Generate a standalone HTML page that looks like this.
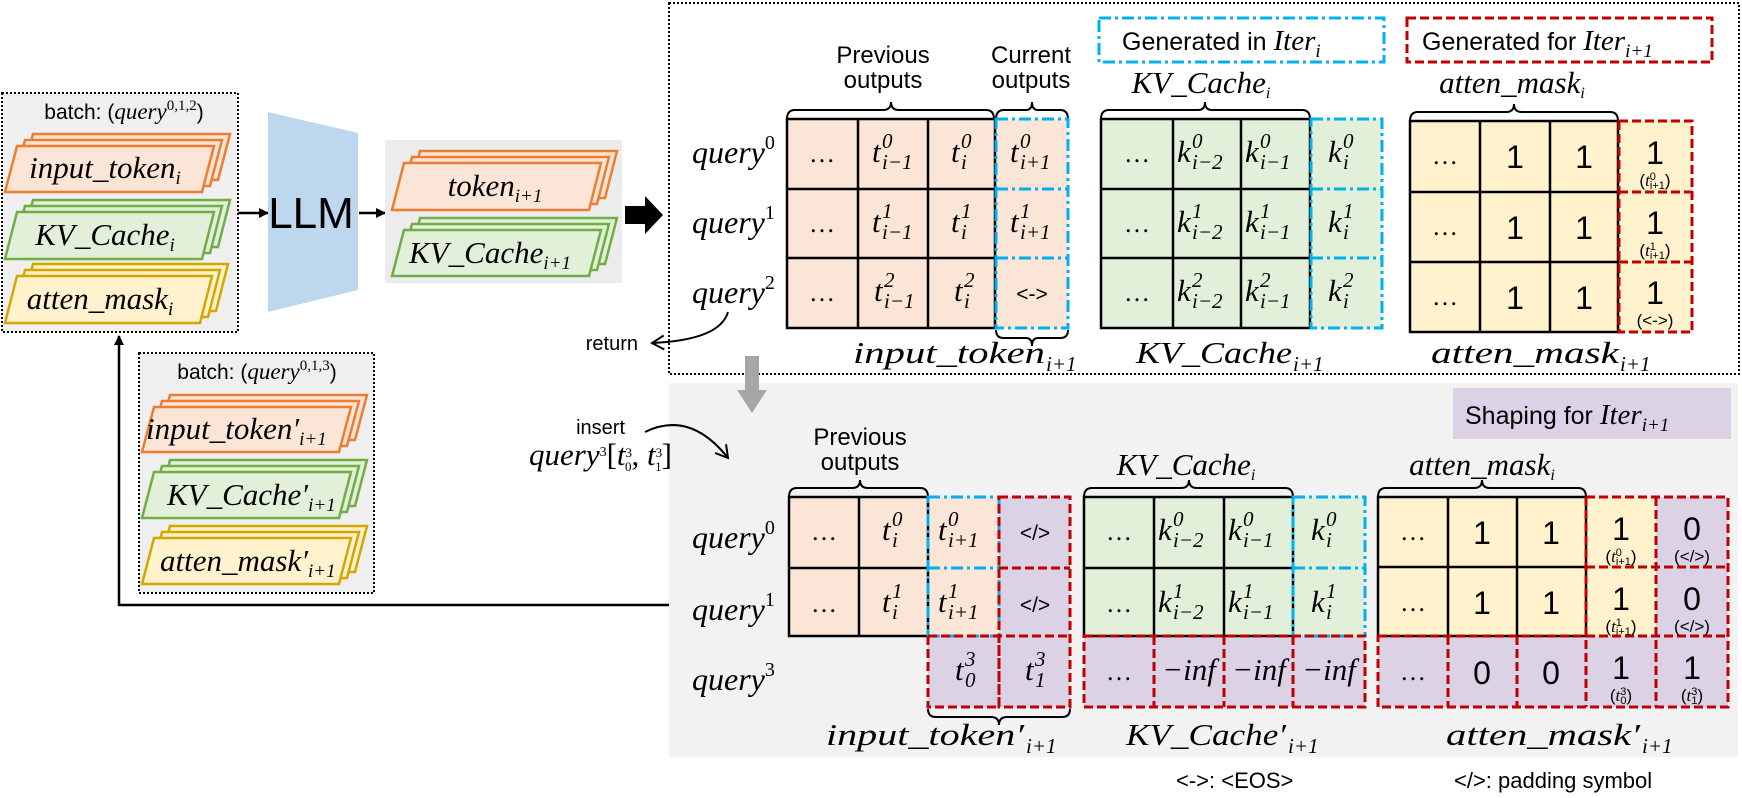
<!DOCTYPE html>
<html><head><meta charset="utf-8"><style>
html,body{margin:0;padding:0;background:#fff;}
svg{display:block}
.sans{font-family:"Liberation Sans",Arial,sans-serif;}
.m{font-family:"Liberation Serif",serif;font-style:italic;font-size:31px;}
.s{font-family:"Liberation Serif",serif;font-style:italic;font-size:21px;}
.n{font-family:"Liberation Sans",sans-serif;font-size:32px;}
.d{font-family:"Liberation Serif",serif;font-size:26px;}
.ss{font-family:"Liberation Sans",sans-serif;font-size:17px;}
.q{font-family:"Liberation Serif",serif;font-style:italic;font-size:32px;}
.g{stroke:#000;stroke-width:2.5;fill:none}
.bd{stroke:#00b0f0;stroke-width:3;stroke-dasharray:12 4 3 4;fill:none}
.rd{stroke:#c00000;stroke-width:3;stroke-dasharray:9 4;fill:none}
</style></head><body>
<svg width="1742" height="798" viewBox="0 0 1742 798" xmlns="http://www.w3.org/2000/svg">
<defs>
<marker id="ah" markerWidth="10" markerHeight="10" refX="9" refY="5" orient="auto" markerUnits="userSpaceOnUse"><path d="M0,0 L10,5 L0,10 z" fill="#000"/></marker>
<marker id="oh" markerWidth="16" markerHeight="16" refX="13" refY="8" orient="auto" markerUnits="userSpaceOnUse"><path d="M1,1 L13,8 L1,15" fill="none" stroke="#000" stroke-width="2"/></marker>
</defs>

<rect x="2" y="93" width="236" height="239" fill="#efefef" stroke="#000" stroke-width="2" stroke-dasharray="2 2"/>
<text x="124" y="119" text-anchor="middle" class="sans" font-size="21">batch: (<tspan font-family="Liberation Serif" font-style="italic" font-size="23">query</tspan><tspan dy="-9" font-family="Liberation Serif" font-size="15">0,1,2</tspan><tspan dy="9">)</tspan></text>
<g stroke="#ed7d31" stroke-width="2.5" fill="#fbe5d6">
<polygon points="33,134 230,134 218,180 21,180"/>
<polygon points="25,140 222,140 210,186 13,186"/>
<polygon points="17,146 214,146 202,192 5,192"/>
</g>
<text x="105" y="178" text-anchor="middle" class="m" font-size="29">input_token<tspan dy="6" font-size="19">i</tspan></text>
<g stroke="#70ad47" stroke-width="2.5" fill="#e2f0d9">
<polygon points="33,200 230,200 218,247 21,247"/>
<polygon points="25,206 222,206 210,253 13,253"/>
<polygon points="17,212 214,212 202,259 5,259"/>
</g>
<text x="105" y="245" text-anchor="middle" class="m" font-size="29">KV_Cache<tspan dy="6" font-size="19">i</tspan></text>
<g stroke="#d4a600" stroke-width="2.5" fill="#fff2cc">
<polygon points="33,264 228,264 216,311 21,311"/>
<polygon points="25,270 220,270 208,317 13,317"/>
<polygon points="17,276 212,276 200,323 5,323"/>
</g>
<text x="100" y="309" text-anchor="middle" class="m" font-size="29">atten_mask<tspan dy="6" font-size="19">i</tspan></text>

<line x1="238" y1="213" x2="268" y2="213" stroke="#000" stroke-width="2.5" marker-end="url(#ah)"/>
<polygon points="268,112 358,133 358,290 268,312" fill="#bdd7ee"/>
<text x="311" y="228" text-anchor="middle" class="sans" font-size="44">LLM</text>
<line x1="359" y1="213" x2="385" y2="213" stroke="#000" stroke-width="2.5" marker-end="url(#ah)"/>

<rect x="385" y="140" width="237" height="143" fill="#ececec"/>
<g stroke="#ed7d31" stroke-width="2.5" fill="#fbe5d6">
<polygon points="420,151 617,151 605,198 408,198"/>
<polygon points="412,157 609,157 597,204 400,204"/>
<polygon points="404,163 601,163 589,210 392,210"/>
</g>
<text x="495" y="196" text-anchor="middle" class="m" font-size="29">token<tspan dy="6" font-size="19">i+1</tspan></text>
<g stroke="#70ad47" stroke-width="2.5" fill="#e2f0d9">
<polygon points="420,218 617,218 605,264 408,264"/>
<polygon points="412,224 609,224 597,270 400,270"/>
<polygon points="404,230 601,230 589,276 392,276"/>
</g>
<text x="490" y="263" text-anchor="middle" class="m" font-size="29">KV_Cache<tspan dy="6" font-size="19">i+1</tspan></text>

<polygon points="625,206 645,206 645,196 663,215 645,234 645,224 625,224" fill="#000"/>

<rect x="139" y="353" width="235" height="240" fill="#efefef" stroke="#000" stroke-width="2" stroke-dasharray="2 2"/>
<text x="257" y="379" text-anchor="middle" class="sans" font-size="21">batch: (<tspan font-family="Liberation Serif" font-style="italic" font-size="23">query</tspan><tspan dy="-9" font-family="Liberation Serif" font-size="15">0,1,3</tspan><tspan dy="9">)</tspan></text>
<g stroke="#ed7d31" stroke-width="2.5" fill="#fbe5d6">
<polygon points="170,395 367,395 355,440 158,440"/>
<polygon points="162,401 359,401 347,446 150,446"/>
<polygon points="154,407 351,407 339,452 142,452"/>
</g>
<text x="146" y="439" class="m" font-size="29">input_token′<tspan dy="6" font-size="19">i+1</tspan></text>
<g stroke="#70ad47" stroke-width="2.5" fill="#e2f0d9">
<polygon points="170,460 367,460 355,506 158,506"/>
<polygon points="162,466 359,466 347,512 150,512"/>
<polygon points="154,472 351,472 339,518 142,518"/>
</g>
<text x="167" y="505" class="m" font-size="29">KV_Cache′<tspan dy="6" font-size="19">i+1</tspan></text>
<g stroke="#d4a600" stroke-width="2.5" fill="#fff2cc">
<polygon points="170,526 367,526 355,572 158,572"/>
<polygon points="162,532 359,532 347,578 150,578"/>
<polygon points="154,538 351,538 339,584 142,584"/>
</g>
<text x="160" y="571" class="m" font-size="29">atten_mask′<tspan dy="6" font-size="19">i+1</tspan></text>

<polyline points="672,605 119,605 119,336" fill="none" stroke="#000" stroke-width="2.5" marker-end="url(#ah)"/>

<rect x="669" y="3" width="1070" height="371" fill="none" stroke="#000" stroke-width="2" stroke-dasharray="2 2"/>

<text x="638" y="350" text-anchor="end" class="sans" font-size="20">return</text>
<path d="M728,312 Q720,340 652,343" fill="none" stroke="#000" stroke-width="2" marker-end="url(#oh)"/>

<rect x="1099" y="18" width="285" height="44" class="bd"/>
<text x="1122" y="50" class="sans" font-size="25">Generated in <tspan font-family="Liberation Serif" font-style="italic" font-size="29">Iter</tspan><tspan dy="7" font-family="Liberation Serif" font-style="italic" font-size="19">i</tspan></text>
<rect x="1407" y="18" width="305" height="44" class="rd"/>
<text x="1422" y="50" class="sans" font-size="25">Generated for <tspan font-family="Liberation Serif" font-style="italic" font-size="29">Iter</tspan><tspan dy="7" font-family="Liberation Serif" font-style="italic" font-size="19">i+1</tspan></text>

<text x="883" y="63" text-anchor="middle" class="sans" font-size="24">Previous</text>
<text x="883" y="88" text-anchor="middle" class="sans" font-size="24">outputs</text>
<text x="1031" y="63" text-anchor="middle" class="sans" font-size="24">Current</text>
<text x="1031" y="88" text-anchor="middle" class="sans" font-size="24">outputs</text>
<g fill="none" stroke="#000" stroke-width="2">
<path d="M787,119 Q787,110 795,110 L883,110 Q891,110 891,102 Q891,110 899,110 L986,110 Q994,110 994,119"/>
<path d="M996,119 Q996,110 1004,110 L1026,110 Q1032,110 1032,102 Q1032,110 1038,110 L1060,110 Q1068,110 1068,119"/>
<path d="M996,330 Q996,338 1004,338 L1026,338 Q1032,338 1032,346 Q1032,338 1038,338 L1060,338 Q1068,338 1068,330"/>
<path d="M1101,119 Q1101,110 1109,110 L1198,110 Q1205,110 1205,102 Q1205,110 1212,110 L1302,110 Q1310,110 1310,119"/>
<path d="M1410,121 Q1410,112 1418,112 L1506,112 Q1514,112 1514,104 Q1514,112 1522,112 L1610,112 Q1618,112 1618,121"/>
</g>
<text x="1201" y="93" text-anchor="middle" class="m" font-size="25">KV_Cache<tspan dy="5" font-size="16">i</tspan></text>
<text x="1512" y="93" text-anchor="middle" class="m" font-size="25">atten_mask<tspan dy="5" font-size="16">i</tspan></text>

<text x="692" y="163" class="q">query<tspan dy="-14" font-size="20" font-style="normal">0</tspan></text>
<text x="692" y="233" class="q">query<tspan dy="-14" font-size="20" font-style="normal">1</tspan></text>
<text x="692" y="303" class="q">query<tspan dy="-14" font-size="20" font-style="normal">2</tspan></text>

<rect x="787" y="119" width="281" height="209" fill="#fbe5d6"/>
<g class="g">
<rect x="787" y="119" width="208" height="209"/>
<line x1="858" y1="119" x2="858" y2="328"/><line x1="928" y1="119" x2="928" y2="328"/>
<line x1="787" y1="189" x2="995" y2="189"/><line x1="787" y1="258" x2="995" y2="258"/>
</g>
<g class="bd"><rect x="996" y="119" width="72" height="209"/><line x1="996" y1="189" x2="1068" y2="189"/><line x1="996" y1="258" x2="1068" y2="258"/></g>
<text x="822" y="162" text-anchor="middle" class="d">…</text>
<text x="822" y="232" text-anchor="middle" class="d">…</text>
<text x="822" y="301" text-anchor="middle" class="d">…</text>
<text x="872" y="162" class="m">t</text><text x="882" y="148" class="s">0</text><text x="882" y="169" class="s">i−1</text>
<text x="872" y="232" class="m">t</text><text x="882" y="218" class="s">1</text><text x="882" y="239" class="s">i−1</text>
<text x="874" y="301" class="m">t</text><text x="884" y="287" class="s">2</text><text x="884" y="308" class="s">i−1</text>
<text x="951" y="162" class="m">t</text><text x="961" y="148" class="s">0</text><text x="961" y="169" class="s">i</text>
<text x="951" y="232" class="m">t</text><text x="961" y="218" class="s">1</text><text x="961" y="239" class="s">i</text>
<text x="954" y="301" class="m">t</text><text x="964" y="287" class="s">2</text><text x="964" y="308" class="s">i</text>
<text x="1010" y="162" class="m">t</text><text x="1020" y="148" class="s">0</text><text x="1020" y="169" class="s">i+1</text>
<text x="1010" y="232" class="m">t</text><text x="1020" y="218" class="s">1</text><text x="1020" y="239" class="s">i+1</text>
<text x="1032" y="301" text-anchor="middle" class="sans" font-size="21">&lt;-&gt;</text>

<rect x="1101" y="119" width="281" height="209" fill="#e2f0d9"/>
<g class="g">
<rect x="1101" y="119" width="209" height="209"/>
<line x1="1173" y1="119" x2="1173" y2="328"/><line x1="1241" y1="119" x2="1241" y2="328"/>
<line x1="1101" y1="189" x2="1310" y2="189"/><line x1="1101" y1="258" x2="1310" y2="258"/>
</g>
<g class="bd"><rect x="1311" y="119" width="71" height="209"/><line x1="1311" y1="189" x2="1382" y2="189"/><line x1="1311" y1="258" x2="1382" y2="258"/></g>
<text x="1137" y="162" text-anchor="middle" class="d">…</text>
<text x="1137" y="232" text-anchor="middle" class="d">…</text>
<text x="1137" y="301" text-anchor="middle" class="d">…</text>
<text x="1177" y="162" class="m">k</text><text x="1192" y="148" class="s">0</text><text x="1192" y="169" class="s">i−2</text>
<text x="1177" y="232" class="m">k</text><text x="1192" y="218" class="s">1</text><text x="1192" y="239" class="s">i−2</text>
<text x="1177" y="301" class="m">k</text><text x="1192" y="287" class="s">2</text><text x="1192" y="308" class="s">i−2</text>
<text x="1245" y="162" class="m">k</text><text x="1260" y="148" class="s">0</text><text x="1260" y="169" class="s">i−1</text>
<text x="1245" y="232" class="m">k</text><text x="1260" y="218" class="s">1</text><text x="1260" y="239" class="s">i−1</text>
<text x="1245" y="301" class="m">k</text><text x="1260" y="287" class="s">2</text><text x="1260" y="308" class="s">i−1</text>
<text x="1328" y="162" class="m">k</text><text x="1343" y="148" class="s">0</text><text x="1343" y="169" class="s">i</text>
<text x="1328" y="232" class="m">k</text><text x="1343" y="218" class="s">1</text><text x="1343" y="239" class="s">i</text>
<text x="1328" y="301" class="m">k</text><text x="1343" y="287" class="s">2</text><text x="1343" y="308" class="s">i</text>

<rect x="1410" y="121" width="282" height="211" fill="#fff2cc"/>
<g class="g">
<rect x="1410" y="121" width="208" height="211"/>
<line x1="1480" y1="121" x2="1480" y2="332"/><line x1="1550" y1="121" x2="1550" y2="332"/>
<line x1="1410" y1="192" x2="1618" y2="192"/><line x1="1410" y1="262" x2="1618" y2="262"/>
</g>
<g class="rd"><rect x="1619" y="121" width="73" height="211"/><line x1="1619" y1="192" x2="1692" y2="192"/><line x1="1619" y1="262" x2="1692" y2="262"/></g>
<text x="1445" y="164" text-anchor="middle" class="d">…</text>
<text x="1445" y="235" text-anchor="middle" class="d">…</text>
<text x="1445" y="305" text-anchor="middle" class="d">…</text>
<text x="1515" y="168" text-anchor="middle" class="n">1</text><text x="1584" y="168" text-anchor="middle" class="n">1</text>
<text x="1515" y="239" text-anchor="middle" class="n">1</text><text x="1584" y="239" text-anchor="middle" class="n">1</text>
<text x="1515" y="309" text-anchor="middle" class="n">1</text><text x="1584" y="309" text-anchor="middle" class="n">1</text>
<text x="1655" y="164" text-anchor="middle" class="n" font-size="28">1</text>
<text x="1655" y="186" text-anchor="middle" class="ss">(<tspan font-family="Liberation Serif" font-style="italic">t</tspan><tspan font-size="11" dy="-6">0</tspan><tspan font-size="11" dx="-6" dy="9">i+1</tspan><tspan dy="-3">)</tspan></text>
<text x="1655" y="234" text-anchor="middle" class="n" font-size="28">1</text>
<text x="1655" y="256" text-anchor="middle" class="ss">(<tspan font-family="Liberation Serif" font-style="italic">t</tspan><tspan font-size="11" dy="-6">1</tspan><tspan font-size="11" dx="-6" dy="9">i+1</tspan><tspan dy="-3">)</tspan></text>
<text x="1655" y="304" text-anchor="middle" class="n" font-size="28">1</text>
<text x="1655" y="326" text-anchor="middle" class="ss">(&lt;-&gt;)</text>

<text x="853" y="363" class="m" font-size="37" textLength="192" lengthAdjust="spacingAndGlyphs">input_token</text><text x="1046" y="371" class="s" font-size="30">i+1</text>
<text x="1136" y="363" class="m" font-size="37" textLength="156" lengthAdjust="spacingAndGlyphs">KV_Cache</text><text x="1293" y="371" class="s" font-size="30">i+1</text>
<text x="1431" y="363" class="m" font-size="37" textLength="188" lengthAdjust="spacingAndGlyphs">atten_mask</text><text x="1620" y="371" class="s" font-size="30">i+1</text>

<rect x="669" y="383" width="1069" height="374" fill="#f2f2f2"/>
<polygon points="745,356 759,356 759,390 767,390 752,413 737,390 745,390" fill="#a6a6a6"/>

<text x="625" y="434" text-anchor="end" class="sans" font-size="20">insert</text>
<text x="672" y="465" text-anchor="end" class="m" font-size="22">query<tspan dy="-9" font-size="14" font-style="normal">3</tspan><tspan dy="9" font-style="normal">[</tspan>t<tspan dy="-8" font-size="13" font-style="normal">3</tspan><tspan dx="-7" dy="14" font-size="13" font-style="normal">0</tspan><tspan dy="-6" font-style="normal">, </tspan>t<tspan dy="-8" font-size="13" font-style="normal">3</tspan><tspan dx="-7" dy="14" font-size="13" font-style="normal">1</tspan><tspan dy="-6" font-style="normal">]</tspan></text>
<path d="M645,432 Q690,410 728,458" fill="none" stroke="#000" stroke-width="2" marker-end="url(#oh)"/>

<rect x="1453" y="388" width="278" height="51" fill="#dcd2e6"/>
<text x="1465" y="424" class="sans" font-size="25">Shaping for  <tspan font-family="Liberation Serif" font-style="italic" font-size="29">Iter</tspan><tspan dy="7" font-family="Liberation Serif" font-style="italic" font-size="19">i+1</tspan></text>

<text x="860" y="445" text-anchor="middle" class="sans" font-size="24">Previous</text>
<text x="860" y="470" text-anchor="middle" class="sans" font-size="24">outputs</text>
<g fill="none" stroke="#000" stroke-width="2">
<path d="M789,497 Q789,488 797,488 L852,488 Q860,488 860,480 Q860,488 868,488 L920,488 Q928,488 928,497"/>
<path d="M928,709 Q928,717 936,717 L991,717 Q999,717 999,725 Q999,717 1007,717 L1062,717 Q1070,717 1070,709"/>
<path d="M1084,497 Q1084,488 1092,488 L1181,488 Q1189,488 1189,480 Q1189,488 1197,488 L1285,488 Q1293,488 1293,497"/>
<path d="M1378,497 Q1378,488 1386,488 L1474,488 Q1482,488 1482,480 Q1482,488 1490,488 L1578,488 Q1586,488 1586,497"/>
</g>
<text x="1186" y="475" text-anchor="middle" class="m" font-size="25">KV_Cache<tspan dy="5" font-size="16">i</tspan></text>
<text x="1482" y="475" text-anchor="middle" class="m" font-size="25">atten_mask<tspan dy="5" font-size="16">i</tspan></text>

<text x="692" y="548" class="q">query<tspan dy="-14" font-size="20" font-style="normal">0</tspan></text>
<text x="692" y="620" class="q">query<tspan dy="-14" font-size="20" font-style="normal">1</tspan></text>
<text x="692" y="690" class="q">query<tspan dy="-14" font-size="20" font-style="normal">3</tspan></text>

<rect x="789" y="497" width="210" height="139" fill="#fbe5d6"/>
<rect x="999" y="497" width="71" height="210" fill="#dcd2e6"/>
<rect x="928" y="636" width="71" height="71" fill="#dcd2e6"/>
<g class="g"><rect x="789" y="497" width="139" height="139"/><line x1="859" y1="497" x2="859" y2="636"/><line x1="789" y1="568" x2="928" y2="568"/></g>
<g class="bd"><rect x="928" y="497" width="71" height="139"/><line x1="928" y1="568" x2="999" y2="568"/></g>
<g class="rd"><rect x="999" y="497" width="71" height="210"/><line x1="999" y1="568" x2="1070" y2="568"/><line x1="928" y1="636" x2="1070" y2="636"/><polyline points="928,636 928,707 999,707 999,636"/></g>
<text x="824" y="540" text-anchor="middle" class="d">…</text>
<text x="824" y="612" text-anchor="middle" class="d">…</text>
<text x="882" y="540" class="m">t</text><text x="892" y="526" class="s">0</text><text x="892" y="547" class="s">i</text>
<text x="882" y="612" class="m">t</text><text x="892" y="598" class="s">1</text><text x="892" y="619" class="s">i</text>
<text x="938" y="540" class="m">t</text><text x="948" y="526" class="s">0</text><text x="948" y="547" class="s">i+1</text>
<text x="938" y="612" class="m">t</text><text x="948" y="598" class="s">1</text><text x="948" y="619" class="s">i+1</text>
<text x="1035" y="540" text-anchor="middle" class="sans" font-size="21">&lt;/&gt;</text>
<text x="1035" y="612" text-anchor="middle" class="sans" font-size="21">&lt;/&gt;</text>
<text x="955" y="680" class="m">t</text><text x="965" y="666" class="s">3</text><text x="965" y="687" class="s">0</text>
<text x="1025" y="680" class="m">t</text><text x="1035" y="666" class="s">3</text><text x="1035" y="687" class="s">1</text>

<rect x="1084" y="497" width="281" height="139" fill="#e2f0d9"/>
<rect x="1084" y="636" width="281" height="71" fill="#dcd2e6"/>
<g class="g"><rect x="1084" y="497" width="209" height="139"/><line x1="1154" y1="497" x2="1154" y2="636"/><line x1="1224" y1="497" x2="1224" y2="636"/><line x1="1084" y1="568" x2="1293" y2="568"/></g>
<g class="bd"><rect x="1293" y="497" width="72" height="139"/><line x1="1293" y1="568" x2="1365" y2="568"/></g>
<g class="rd"><rect x="1084" y="636" width="281" height="71"/><line x1="1154" y1="636" x2="1154" y2="707"/><line x1="1224" y1="636" x2="1224" y2="707"/><line x1="1293" y1="636" x2="1293" y2="707"/></g>
<text x="1119" y="540" text-anchor="middle" class="d">…</text>
<text x="1119" y="612" text-anchor="middle" class="d">…</text>
<text x="1119" y="680" text-anchor="middle" class="d">…</text>
<text x="1158" y="540" class="m">k</text><text x="1173" y="526" class="s">0</text><text x="1173" y="547" class="s">i−2</text>
<text x="1158" y="612" class="m">k</text><text x="1173" y="598" class="s">1</text><text x="1173" y="619" class="s">i−2</text>
<text x="1228" y="540" class="m">k</text><text x="1243" y="526" class="s">0</text><text x="1243" y="547" class="s">i−1</text>
<text x="1228" y="612" class="m">k</text><text x="1243" y="598" class="s">1</text><text x="1243" y="619" class="s">i−1</text>
<text x="1311" y="540" class="m">k</text><text x="1326" y="526" class="s">0</text><text x="1326" y="547" class="s">i</text>
<text x="1311" y="612" class="m">k</text><text x="1326" y="598" class="s">1</text><text x="1326" y="619" class="s">i</text>
<text x="1189" y="680" text-anchor="middle" class="m" font-size="26">−inf</text>
<text x="1259" y="680" text-anchor="middle" class="m" font-size="26">−inf</text>
<text x="1329" y="680" text-anchor="middle" class="m" font-size="26">−inf</text>

<rect x="1378" y="497" width="278" height="139" fill="#fff2cc"/>
<rect x="1656" y="497" width="72" height="139" fill="#dcd2e6"/>
<rect x="1378" y="636" width="350" height="71" fill="#dcd2e6"/>
<g class="g"><rect x="1378" y="497" width="208" height="139"/><line x1="1448" y1="497" x2="1448" y2="636"/><line x1="1517" y1="497" x2="1517" y2="636"/><line x1="1378" y1="567" x2="1586" y2="567"/></g>
<g class="rd"><polyline points="1586,497 1728,497 1728,707 1378,707 1378,636"/><line x1="1378" y1="636" x2="1728" y2="636"/><line x1="1586" y1="567" x2="1728" y2="567"/><line x1="1586" y1="497" x2="1586" y2="707"/><line x1="1656" y1="497" x2="1656" y2="707"/><line x1="1448" y1="636" x2="1448" y2="707"/><line x1="1517" y1="636" x2="1517" y2="707"/></g>
<text x="1413" y="540" text-anchor="middle" class="d">…</text>
<text x="1413" y="611" text-anchor="middle" class="d">…</text>
<text x="1413" y="680" text-anchor="middle" class="d">…</text>
<text x="1482" y="544" text-anchor="middle" class="n">1</text><text x="1551" y="544" text-anchor="middle" class="n">1</text>
<text x="1482" y="614" text-anchor="middle" class="n">1</text><text x="1551" y="614" text-anchor="middle" class="n">1</text>
<text x="1482" y="684" text-anchor="middle" class="n">0</text><text x="1551" y="684" text-anchor="middle" class="n">0</text>
<text x="1621" y="540" text-anchor="middle" class="n" font-size="28">1</text>
<text x="1621" y="562" text-anchor="middle" class="ss">(<tspan font-family="Liberation Serif" font-style="italic">t</tspan><tspan font-size="11" dy="-6">0</tspan><tspan font-size="11" dx="-6" dy="9">i+1</tspan><tspan dy="-3">)</tspan></text>
<text x="1621" y="610" text-anchor="middle" class="n" font-size="28">1</text>
<text x="1621" y="632" text-anchor="middle" class="ss">(<tspan font-family="Liberation Serif" font-style="italic">t</tspan><tspan font-size="11" dy="-6">1</tspan><tspan font-size="11" dx="-6" dy="9">i+1</tspan><tspan dy="-3">)</tspan></text>
<text x="1621" y="679" text-anchor="middle" class="n" font-size="28">1</text>
<text x="1621" y="701" text-anchor="middle" class="ss">(<tspan font-family="Liberation Serif" font-style="italic">t</tspan><tspan font-size="11" dy="-6">3</tspan><tspan font-size="11" dx="-6" dy="9">0</tspan><tspan dy="-3">)</tspan></text>
<text x="1692" y="540" text-anchor="middle" class="n" font-size="28">0</text>
<text x="1692" y="562" text-anchor="middle" class="ss">(&lt;/&gt;)</text>
<text x="1692" y="610" text-anchor="middle" class="n" font-size="28">0</text>
<text x="1692" y="632" text-anchor="middle" class="ss">(&lt;/&gt;)</text>
<text x="1692" y="679" text-anchor="middle" class="n" font-size="28">1</text>
<text x="1692" y="701" text-anchor="middle" class="ss">(<tspan font-family="Liberation Serif" font-style="italic">t</tspan><tspan font-size="11" dy="-6">3</tspan><tspan font-size="11" dx="-6" dy="9">1</tspan><tspan dy="-3">)</tspan></text>

<text x="826" y="745" class="m" font-size="37" textLength="198" lengthAdjust="spacingAndGlyphs">input_token′</text><text x="1026" y="753" class="s" font-size="30">i+1</text>
<text x="1126" y="745" class="m" font-size="37" textLength="160" lengthAdjust="spacingAndGlyphs">KV_Cache′</text><text x="1288" y="753" class="s" font-size="30">i+1</text>
<text x="1446" y="745" class="m" font-size="37" textLength="194" lengthAdjust="spacingAndGlyphs">atten_mask′</text><text x="1642" y="753" class="s" font-size="30">i+1</text>

<text x="1176" y="788" class="sans" font-size="22">&lt;-&gt;: &lt;EOS&gt;</text>
<text x="1454" y="788" class="sans" font-size="22">&lt;/&gt;: padding symbol</text>
</svg>
</body></html>
